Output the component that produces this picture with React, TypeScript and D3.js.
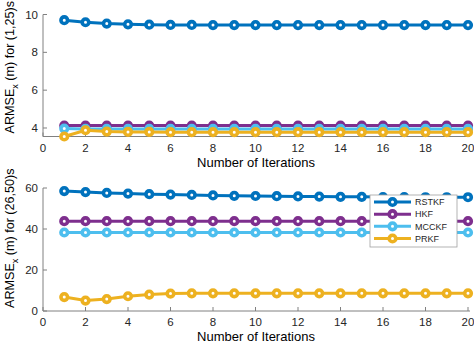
import React from "react";
import * as d3 from "d3";

const iterations = d3.range(1, 21);
const seriesNames = ["RSTKF", "HKF", "MCCKF", "PRKF"];
const colors = ["#0072BD", "#7E2F8E", "#4DBEEE", "#EDB120"];

// (1,25)s
const topRSTKF = [9.7, 9.59, 9.52, 9.48, 9.46, 9.45, 9.45, 9.44, 9.44, 9.44, 9.44, 9.44, 9.44, 9.44, 9.44, 9.44, 9.44, 9.44, 9.44, 9.44];
const topHKF = [4.13, 4.13, 4.13, 4.13, 4.13, 4.13, 4.13, 4.13, 4.13, 4.13, 4.13, 4.13, 4.13, 4.13, 4.13, 4.13, 4.13, 4.13, 4.13, 4.13];
const topMCCKF = [3.97, 3.95, 3.95, 3.95, 3.95, 3.95, 3.95, 3.95, 3.95, 3.95, 3.95, 3.95, 3.95, 3.95, 3.95, 3.95, 3.95, 3.95, 3.95, 3.95];
const topPRKF = [3.55, 3.88, 3.81, 3.79, 3.79, 3.78, 3.78, 3.78, 3.78, 3.78, 3.78, 3.78, 3.78, 3.78, 3.78, 3.78, 3.78, 3.78, 3.78, 3.78];

// (26,50)s
const botRSTKF = [58.5, 58.0, 57.6, 57.3, 57.0, 56.8, 56.6, 56.4, 56.2, 56.1, 56.0, 55.9, 55.8, 55.7, 55.7, 55.6, 55.6, 55.5, 55.5, 55.5];
const botHKF = [43.8, 43.8, 43.8, 43.8, 43.8, 43.8, 43.8, 43.8, 43.8, 43.8, 43.8, 43.8, 43.8, 43.8, 43.8, 43.8, 43.8, 43.8, 43.8, 43.8];
const botMCCKF = [38.3, 38.3, 38.3, 38.3, 38.3, 38.3, 38.3, 38.3, 38.3, 38.3, 38.3, 38.3, 38.3, 38.3, 38.3, 38.3, 38.3, 38.3, 38.3, 38.3];
const botPRKF = [6.8, 5.1, 5.8, 7.2, 8.0, 8.5, 8.6, 8.6, 8.6, 8.6, 8.6, 8.6, 8.6, 8.6, 8.6, 8.6, 8.6, 8.6, 8.6, 8.6];

const xTicks = [0, 2, 4, 6, 8, 10, 12, 14, 16, 18, 20];
const topYTicks = [4, 6, 8, 10];
const botYTicks = [0, 20, 40, 60];

const FONT = "'Liberation Sans', Arial, sans-serif";
const AXIS = "#808080";
const TXT = "#262626";

type PanelProps = {
  top: number;
  bottom: number;
  yDomain: [number, number];
  yTicks: number[];
  data: number[][];
  label: string;
};

function Panel({ top, bottom, yDomain, yTicks, data, label }: PanelProps) {
  const x = d3.scaleLinear().domain([0, 20]).range([43, 468]);
  const y = d3.scaleLinear().domain(yDomain).range([bottom, top]);
  const line = d3
    .line<number>()
    .x((_, i) => x(iterations[i]))
    .y((d) => y(d));
  return (
    <g>
      <line x1={x(0)} x2={x(0)} y1={y(yDomain[0])} y2={y(yDomain[1])} stroke={AXIS} strokeWidth={1} />
      <line x1={x(0)} x2={x(20) + 2} y1={bottom} y2={bottom} stroke={AXIS} strokeWidth={1} />
      {yTicks.map((t) => (
        <g key={"y" + t}>
          <line x1={x(0)} x2={x(0) + 4} y1={y(t)} y2={y(t)} stroke={AXIS} />
          <text x={x(0) - 5} y={y(t) + 4} textAnchor="end" fontSize={11.5} fill={TXT} fontFamily={FONT}>
            {t}
          </text>
        </g>
      ))}
      {xTicks.map((t) => (
        <g key={"x" + t}>
          <line x1={x(t)} x2={x(t)} y1={bottom} y2={bottom - 4} stroke={AXIS} />
          <text x={x(t)} y={bottom + 15} textAnchor="middle" fontSize={11.5} fill={TXT} fontFamily={FONT}>
            {t}
          </text>
        </g>
      ))}
      <text x={256} y={bottom + 30} textAnchor="middle" fontSize={13} fill="#000" fontFamily={FONT}>
        Number of Iterations
      </text>
      <text
        transform={`translate(14,${bottom - 3}) rotate(-90)`}
        textAnchor="start"
        fontSize={12.6}
        fill="#000"
        fontFamily={FONT}
      >
        ARMSE
        <tspan fontSize={9} dy={4}>x</tspan>
        <tspan dy={-4}>{` (m) for ${label}s`}</tspan>
      </text>
      {data.map((s, k) => (
        <g key={seriesNames[k]}>
          <path d={line(s) || ""} fill="none" stroke={colors[k]} strokeWidth={3} />
          {s.map((v, i) => (
            <circle key={i} cx={x(iterations[i])} cy={y(v)} r={3.3} fill="#ffffff" stroke={colors[k]} strokeWidth={3.6} />
          ))}
        </g>
      ))}
    </g>
  );
}

function Legend() {
  const x0 = 370;
  const y0 = 195;
  const rowY = d3.scalePoint<string>().domain(seriesNames).range([202, 238.5]);
  return (
    <g>
      <rect x={x0} y={y0} width={87} height={52} fill="#fff" stroke="#a0a0a0" strokeWidth={0.8} />
      {seriesNames.map((n, k) => (
        <g key={n}>
          <line x1={374} x2={411} y1={rowY(n)} y2={rowY(n)} stroke={colors[k]} strokeWidth={3} />
          <circle cx={392.5} cy={rowY(n)} r={3.3} fill="#fff" stroke={colors[k]} strokeWidth={3.6} />
          <text x={415} y={(rowY(n) as number) + 3.2} fontSize={9} fill={TXT} fontFamily={FONT}>
            {n}
          </text>
        </g>
      ))}
    </g>
  );
}

export default function App() {
  return (
    <svg
      width={474}
      height={347}
      style={{ position: "absolute", left: 0, top: 0, background: "#fff" }}
    >
      <rect width={474} height={347} fill="#fff" />
      <Panel
        top={14.5}
        bottom={136.5}
        yDomain={[3.55, 10]}
        yTicks={topYTicks}
        data={[topRSTKF, topHKF, topMCCKF, topPRKF]}
        label="(1,25)"
      />
      <Panel
        top={188}
        bottom={311}
        yDomain={[0, 60]}
        yTicks={botYTicks}
        data={[botRSTKF, botHKF, botMCCKF, botPRKF]}
        label="(26,50)"
      />
      <Legend />
    </svg>
  );
}
